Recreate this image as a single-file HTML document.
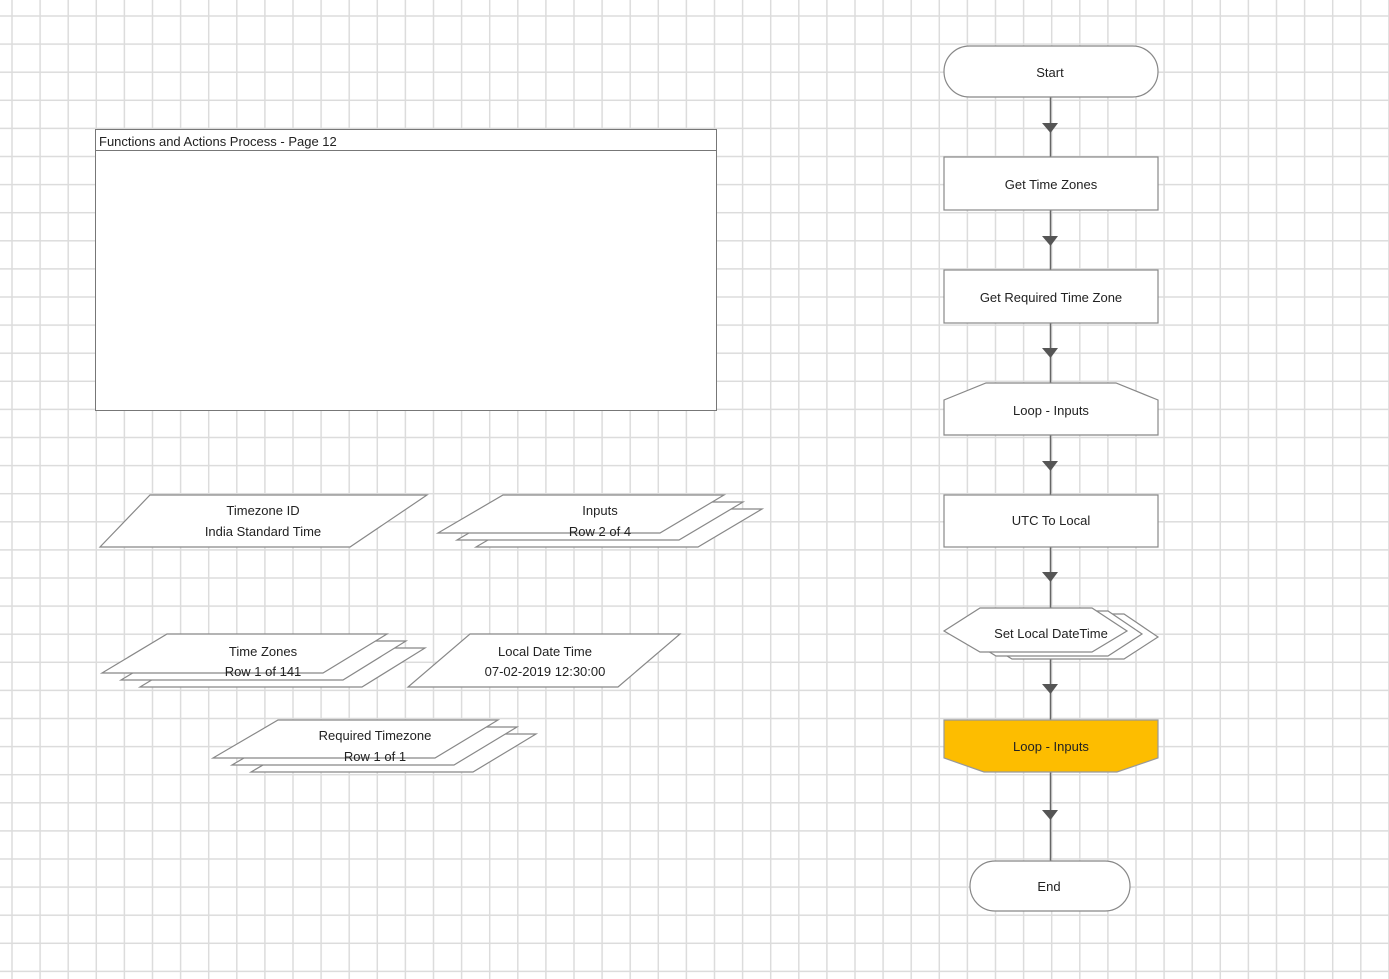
<!DOCTYPE html>
<html><head><meta charset="utf-8"><style>
html,body{margin:0;padding:0;background:#fff;}
svg{display:block;}
text{font-family:"Liberation Sans",sans-serif;font-size:13px;fill:#222;}
</style></head><body>
<svg width="1389" height="979" viewBox="0 0 1389 979" xmlns="http://www.w3.org/2000/svg">
<defs>
<pattern id="g" x="11.25" y="15.25" width="28.1" height="28.1" patternUnits="userSpaceOnUse">
<rect x="0" y="0" width="1.5" height="28.1" fill="#dcdcdc"/>
<rect x="0" y="0" width="28.1" height="1.5" fill="#dcdcdc"/>
</pattern>
</defs>
<rect width="1389" height="979" fill="#fff"/>
<rect width="1389" height="979" fill="url(#g)"/>

<!-- Functions box -->
<rect x="95.5" y="129.5" width="621" height="281" fill="#fff" stroke="#777" stroke-width="1"/>
<line x1="95.5" y1="150.5" x2="716.5" y2="150.5" stroke="#777"/>
<text x="99" y="146">Functions and Actions Process - Page 12</text>

<g fill="#fff" stroke="#888" stroke-width="1.2">
<!-- Timezone ID -->
<polygon points="150,495 427,495 350,547 100,547"/>
<!-- Inputs stack -->
<polygon points="541,509 762,509 698,547 476,547"/>
<polygon points="522,502 743,502 679,540 457,540"/>
<polygon points="503,495 724,495 660,533 438,533"/>
<!-- Time Zones stack -->
<polygon points="205,648 425,648 362,687 140,687"/>
<polygon points="186,641 406,641 343,680 121,680"/>
<polygon points="167,634 387,634 323,673 102,673"/>
<!-- Local Date Time -->
<polygon points="470,634 680,634 618,687 408,687"/>
<!-- Required Timezone stack -->
<polygon points="316,734 536,734 473,772 251,772"/>
<polygon points="297,727 517,727 454,765 232,765"/>
<polygon points="278,720 498,720 435,758 213,758"/>
</g>
<g text-anchor="middle">
<text x="263" y="515">Timezone ID</text>
<text x="263" y="536">India Standard Time</text>
<text x="600" y="515">Inputs</text>
<text x="600" y="536">Row 2 of 4</text>
<text x="263" y="656">Time Zones</text>
<text x="263" y="676">Row 1 of 141</text>
<text x="545" y="656">Local Date Time</text>
<text x="545" y="676">07-02-2019 12:30:00</text>
<text x="375" y="740">Required Timezone</text>
<text x="375" y="761">Row 1 of 1</text>
</g>

<!-- flow line -->
<line x1="1050.5" y1="97" x2="1050.5" y2="861" stroke="#666" stroke-width="1.5"/>
<g fill="#555">
<polygon points="1042,123 1058,123 1050.5,133"/>
<polygon points="1042,236 1058,236 1050.5,246"/>
<polygon points="1042,348 1058,348 1050.5,358"/>
<polygon points="1042,461 1058,461 1050.5,471"/>
<polygon points="1042,572 1058,572 1050.5,582"/>
<polygon points="1042,684 1058,684 1050.5,694"/>
<polygon points="1042,810 1058,810 1050.5,820"/>
</g>

<g fill="#fff" stroke="#888" stroke-width="1.2">
<rect x="944" y="46" width="214" height="51" rx="25.5"/>
<rect x="944" y="157" width="214" height="53"/>
<rect x="944" y="270" width="214" height="53"/>
<polygon points="986,383 1116,383 1158,400 1158,435 944,435 944,400"/>
<rect x="944" y="495" width="214" height="52"/>
<polygon points="1012,614 1124,614 1158,637 1124,659 1012,659 976,637"/>
<polygon points="996,611 1108,611 1142,634 1108,656 996,656 960,634"/>
<polygon points="980,608 1092,608 1127,631 1092,652 980,652 944,631"/>
<rect x="970" y="861" width="160" height="50" rx="25"/>
</g>
<polygon points="944,720 1158,720 1158,758 1117,772 984,772 944,758" fill="#fdbd00" stroke="#999" stroke-width="1.2"/>

<g text-anchor="middle">
<text x="1050" y="77">Start</text>
<text x="1051" y="189">Get Time Zones</text>
<text x="1051" y="302">Get Required Time Zone</text>
<text x="1051" y="415">Loop - Inputs</text>
<text x="1051" y="525">UTC To Local</text>
<text x="1051" y="638">Set Local DateTime</text>
<text x="1051" y="751">Loop - Inputs</text>
<text x="1049" y="891">End</text>
</g>
</svg>
</body></html>
